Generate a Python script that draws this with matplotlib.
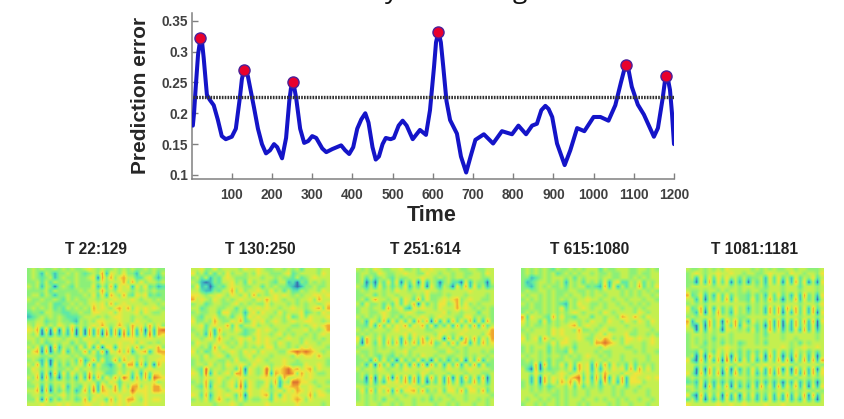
import numpy as np
import matplotlib
matplotlib.use("Agg")
import matplotlib.pyplot as plt
from matplotlib.colors import LinearSegmentedColormap

W, H = 845, 419
plt.rcParams['font.family'] = ['Liberation Sans', 'DejaVu Sans']

time = [3,6,10,16,22,26,30,38,45,55,65,75,85,100,110,120,125,130,135,140,155,165,175,185,195,205,213,225,235,243,247,251,255,260,270,280,290,300,310,325,335,350,372,382,392,402,412,422,432,440,450,458,466,475,483,495,503,515,525,535,550,568,583,593,598,603,608,614,620,626,634,643,660,670,683,694,706,727,750,772,797,813,832,847,859,870,880,888,897,909,928,942,959,977,1000,1017,1037,1054,1068,1076,1081,1087,1095,1110,1125,1150,1160,1172,1177,1181,1185,1190,1195,1200]
error = [.18,.2,.24,.295,.322,.315,.29,.23,.222,.213,.19,.163,.158,.162,.175,.225,.255,.27,.268,.26,.21,.175,.15,.135,.14,.15,.145,.127,.16,.22,.24,.25,.243,.225,.175,.152,.155,.163,.16,.143,.137,.142,.148,.14,.134,.145,.175,.19,.2,.185,.145,.125,.13,.15,.16,.158,.16,.18,.188,.18,.158,.173,.165,.205,.24,.275,.315,.332,.315,.2755,.22,.189,.167,.13,.104,.13,.157,.166,.151,.171,.166,.18,.166,.18,.183,.205,.212,.207,.194,.151,.116,.14,.176,.171,.194,.194,.188,.213,.25,.27,.278,.27,.243,.214,.198,.162,.176,.225,.25,.26,.255,.238,.2,.15]
peak_time = [22,130,251,614,1081,1181]
peak_error = [.322,.27,.25,.332,.278,.26]
threshold = .226
threshold_span = [3,1200]
x_ticks = list(range(100,1300,100))
y_ticks = [.1,.15,.2,.25,.3,.35]
y_tick_labels = ['0.1','0.15','0.2','0.25','0.3','0.35']
panel_titles = ['T 22:129','T 130:250','T 251:614','T 615:1080','T 1081:1181']

panel_1 = [
"45454454545445654544545454454544","45425424454543454726546442544535","45434524544544561747467553356424",
"44535354454544454645557474645545","54525414543544462537265626463423","44445354444454554745465545454544",
"45535424454445463627547436563434","54454454354544554555655565455454","44544533445454565647456555545545",
"45454534354545475654675746565654","34435544334454466556465556465445","23454545433345554545665545545555",
"44553445443254546655565546554555","54654546546454565754575475647464","65717171627161727272727372717278",
"54615152526161727182718272628276","55454555455546555555556665556555","45453454553544654655565564654545",
"54626172545363627166265647356574","46717153625447363716574725672577","55544545554544553434556554545556",
"45425154545372473634737564645566","54726163535463726432463772726175","46545454454645545443454555456555",
"45626172636453746533464636273665","54717251535262827364748627372876","45545455545455553546535556555645",
"44626254625436472754736477465775","55717153535247382765746586665776","45545545645455456565565565565555",
"44617253545347365537465775465665","55565556565556655656565655565555"]
panel_2 = [
"55644645555465565445545453555455","64535354645545465544456345555465","45352435654445554554544353456555",
"54212435564536455543552314354545","46231343565544553545443212445445","55322435574645565464535335455465",
"66545565465464745456565454556656","75654654545655465756545545564755","45534554456454544645554545455456",
"55345544553546565655455655456747","45445536644525646554645556345465","54355644535636565545546346465556",
"64454754465734656456545655665545","55635655736355645545555445456567","45536275546534465654554555645457",
"54527264555434565545645455454565","55456475545656465655456554554545","46554565454645565654654554655455",
"55453746545545454664554546565554","64534654565465646555446787876545","55464565355456455545555465665755",
"45455544546445565455565545555554","45546454655654655545565444655654","54384554553716545846678675674655",
"65382645647726545827678747565445","55465565455655556656375566565555","45473564564736544647254886654554",
"54372654563826545636266775565455","55464565456646556545646576565654","65372565653716556736365665574665",
"45463575454635445536565676465555","55555455565455555655555565555545"]
panel_3 = [
"54546544556445465655545544554455","45544654455655446554554554455465","45353454354455565545454554555445",
"45141536361536162541453316254415","54252635353625361642541637263524","45455545465545556554555555655555",
"44553545545554546444545554555545","45357554563653736445656745655445","53644535363647163546645746454555",
"45545537456326565546555756545454","45544565445565445555645545553554","54545465453545565456555446645454",
"45265372636362747172627363726274","44362736465736573625362736372735","54545554565565554455655556555557",
"45454545555646555546554565555467","62754636462636473656173627473647","51753637372747375734637367263746",
"45554545554554555545554554555555","54454555455645555554465454555454","45454354354545465545544554545545",
"44527363516353625163525361637254","45261736263627271736263726372634","54554654554655556555465545655554",
"45454555455555465455545554555445","45171637173727262736271627362715","44262526564737261536273625373625",
"55454565556565545555465545655545","46373647273667473546366473664735","45454555455455555455545554555554",
"45454535545554545354554554554545","55455455454554555545545455545545"]
panel_4 = [
"45454543544545455535445554455454","45454545345454554544544554454455","44234545554535455545544554545455",
"42345545452545354536256335463545","43245454453545534327262535473546","45445545444554454545555454545454",
"54554545445455454554555454545545","45454545454545565545545545554554","54544545432546554454554554545455",
"44544545463545654554555455454555","45454545454565455546545555465455","73655437464435553554554765754655",
"64553635454554546554655465465465","54544545455674565545555545555455","45455546565547445456445555455545",
"54555546565556554564655564455454","64563754556556544657645466565565","55554546466545554778765465554565",
"45455535454535555546555544554555","45454535443645555454455555454554","54554545545454565545455455555455",
"45454535445544554554555455455455","44371735463637562737364536354545","53171534454627562626465637374645",
"55464554565456463647555465665555","55261746564678362738263726655656","45261746475747463627362726664555",
"45453534554636354535545535545555","55454545454545545545545455455455","55545554454545545555545455555455",
"54554545454555455454554545545545","45545455454554545555454554555455"]
panel_5 = [
"54454545465555545454544554554445","45654556556554554456555465545546","45263636464535344526363526354635",
"44162726361525153526361627361516","45555545554545554535554555355545","54454554545545455445554555455545",
"73462526363544353526363526273526","55261536372644363537351537263515","45454555555555454545554555455546",
"63472626353645254527372747362735","54271637352645354527371627362716","45455546554544555555554555455545",
"72552736174735264537271627372716","63161736263726453517271527362615","55162645165545363537362526272625",
"45554545554555554535554555555545","45454535454555554545554554555545","45453545354534554535555545354555",
"45544545565545555555556545565565","44363536464535353536363536453535","45161746371635363617361527362615",
"63172627182726362526372716372727","55454555455465545565556554555554","55161736271625363627371617362716",
"64172737162735362527273627272736","45454545454555454545455554554545","34262525252535352525251526252515",
"55361726371625262736272637261626","45454545455455454545455545455454","63172636172616362536262726371725",
"35261525262525352526252625262515","65555556556556555565556555555555"]
panels = [panel_1, panel_2, panel_3, panel_4, panel_5]
panel_left = [27,191,356,521,686]

def box(l, t, r, b):
    return [l/W, 1-b/H, (r-l)/W, (b-t)/H]

fig = plt.figure(figsize=(W/100, H/100), dpi=100, facecolor='white')

ax = fig.add_axes(box(192.3,12.7,674,179.3))
ax.plot(time, error, color='#1414c8', lw=2.9, solid_joinstyle='round', solid_capstyle='round', zorder=3)
ax.plot(threshold_span, [threshold]*2, color='#333333', lw=2.4, ls=(0,(0.5,0.35)), zorder=4)
ax.plot(peak_time, peak_error, ls='none', marker='o', ms=8, mfc='#e8002c', mec='#4a209a', mew=1, zorder=5)
ax.set_xlim(1.7,1200)
ax.set_ylim(.093,.363)
ax.set_xticks(x_ticks)
ax.set_yticks(y_ticks)
ax.set_yticklabels(y_tick_labels)
for s in ('top','right'):
    ax.spines[s].set_visible(False)
for s in ('left','bottom'):
    ax.spines[s].set_color('#808080')
    ax.spines[s].set_linewidth(1.1)
ax.tick_params(direction='in', length=4, width=1, color='#808080', labelcolor='#404040', labelsize=9.8)
ax.tick_params(axis='x', pad=6)
ax.tick_params(axis='y', pad=3)
for lab in ax.get_xticklabels()+ax.get_yticklabels():
    lab.set_fontweight('bold')
ax.patch.set_alpha(0)

fig.text(141/W, 1-95/H, 'Prediction error', rotation=90, ha='center', va='center', fontsize=15, fontweight='bold', color='#262626')
fig.text(432/W, 1-215/H, 'Time', ha='center', va='center', fontsize=15.5, fontweight='bold', color='#262626')

fig.text(385/W, 1+2/H, 'y', ha='left', va='baseline', fontsize=19, color='#111111', family='Open Sans')
fig.text(513/W, 1+2/H, 'g', ha='left', va='baseline', fontsize=19, color='#111111', family='Open Sans')

cmap = LinearSegmentedColormap.from_list('m', ['#2f3f90','#3a70b0','#40c0c0','#5ce8a8','#8cf078','#c4f050','#f0e43c','#f0a830','#dc7030','#a04a3c'])
for title, rows, left in zip(panel_titles, panels, panel_left):
    a = fig.add_axes(box(left,268,left+138,406))
    m = np.array([[int(c) for c in r.ljust(32,'4')[:32]] for r in rows])
    a.imshow(m, cmap=cmap, vmin=0, vmax=9, interpolation='bilinear', aspect='auto')
    a.set_axis_off()
    fig.text((left+69)/W, 1-250/H, title, ha='center', va='center', fontsize=11.2, fontweight='bold', color='#222222')

fig.savefig('out.png', dpi=100, facecolor='white')
